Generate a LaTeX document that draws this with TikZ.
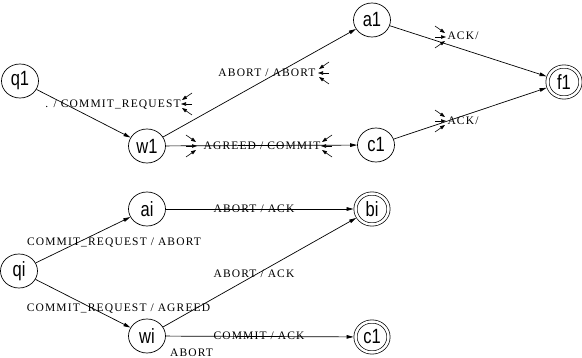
\documentclass[tikz,border=0pt]{standalone}
\usepackage{fontspec}
\usepackage{graphicx}
\setmainfont{Liberation Serif}
\newfontfamily\nodefont{Liberation Sans}
\usetikzlibrary{shapes.geometric,arrows.meta}
\tikzset{
  state/.style={draw, ellipse, minimum width=37pt, minimum height=34pt, inner sep=0pt,
    line width=0.7pt, font=\nodefont\fontsize{16.5}{16.5}\selectfont},
  accept/.style={state, minimum width=33pt, minimum height=31pt, double, double distance=2.5pt},
  lbl/.style={anchor=base, inner sep=0pt, font=\fontsize{11.5}{11.5}\selectfont\addfontfeature{LetterSpace=10}},
  edge/.style={line width=0.7pt, -{Triangle[length=7pt,width=3.6pt]}},
  toacc/.style={edge, shorten >=1.6pt},
  fantip/.style={line width=0.6pt, -{Triangle[length=5pt,width=3.5pt]}},
  pics/fanR/.style={code={
    \draw[fantip] (-11,-11) -- (-1,-4);
    \draw[fantip] (-11,0) -- (0,0);
    \draw[fantip] (-11,11) -- (-1,4);
  }},
  pics/fanL/.style={code={
    \draw[fantip] (11,-11) -- (1,-4);
    \draw[fantip] (11,0) -- (0,0);
    \draw[fantip] (11,11) -- (1,4);
  }}
}
\newcommand{\st}[1]{\scalebox{1}[1.25]{#1}}
\begin{document}
\begin{tikzpicture}[x=1pt,y=-1pt]
\useasboundingbox (0,0) rectangle (582,358);
% states
\node[state]  (q1) at (20,81)   {\st{q1}};
\node[state]  (w1) at (147,146) {\st{w1}};
\node[state]  (a1) at (372,20)  {\st{a1}};
\node[state]  (c1) at (376,145) {\st{c1}};
\node[accept] (f1) at (564,82)  {\st{f1}};
\node[state]  (qi) at (19,271)  {\st{qi}};
\node[state]  (ai) at (147,209) {\st{ai}};
\node[state]  (wi) at (147,336) {\st{wi}};
\node[accept] (bi) at (372,209) {\st{bi}};
\node[accept] (cb) at (372,337) {\st{c1}};
% transitions
\draw[edge] (q1) -- (w1);
\draw[edge] (w1) -- (a1);
\draw[edge] (w1) -- (c1);
\draw[toacc] (a1) -- (f1);
\draw[toacc] (c1) -- (f1);
\draw[edge] (qi) -- (ai);
\draw[edge] (qi) -- (wi);
\draw[toacc] (ai) -- (bi);
\draw[toacc] (wi) -- (bi);
\draw[toacc] (wi) -- (cb);
% labels
\node[lbl] (l1) at (113,108) {. / COMMIT\_REQUEST};
\node[lbl] (l2) at (267,77) {ABORT / ABORT};
\node[lbl] (l3) at (262,150) {AGREED / COMMIT};
\node[lbl] (l4) at (463,40) {ACK/};
\node[lbl] (l5) at (463,125) {ACK/};
\node[lbl] (l6) at (114,246) {COMMIT\_REQUEST / ABORT};
\node[lbl] (l7) at (118.5,312) {COMMIT\_REQUEST / AGREED};
\node[lbl] (l8) at (254,213) {ABORT / ACK};
\node[lbl] (l9) at (254,278) {ABORT / ACK};
\node[lbl] (l10) at (259,340) {COMMIT / ACK};
\node[lbl] (l11) at (191.5,356.5) {ABORT};
% arrow fans beside labels
\pic at (181,104) {fanL};
\pic at (318,73) {fanL};
\pic at (197,146) {fanR};
\pic at (321,146) {fanL};
\pic at (446,37) {fanR};
\pic at (446,121) {fanR};
\end{tikzpicture}
\end{document}
